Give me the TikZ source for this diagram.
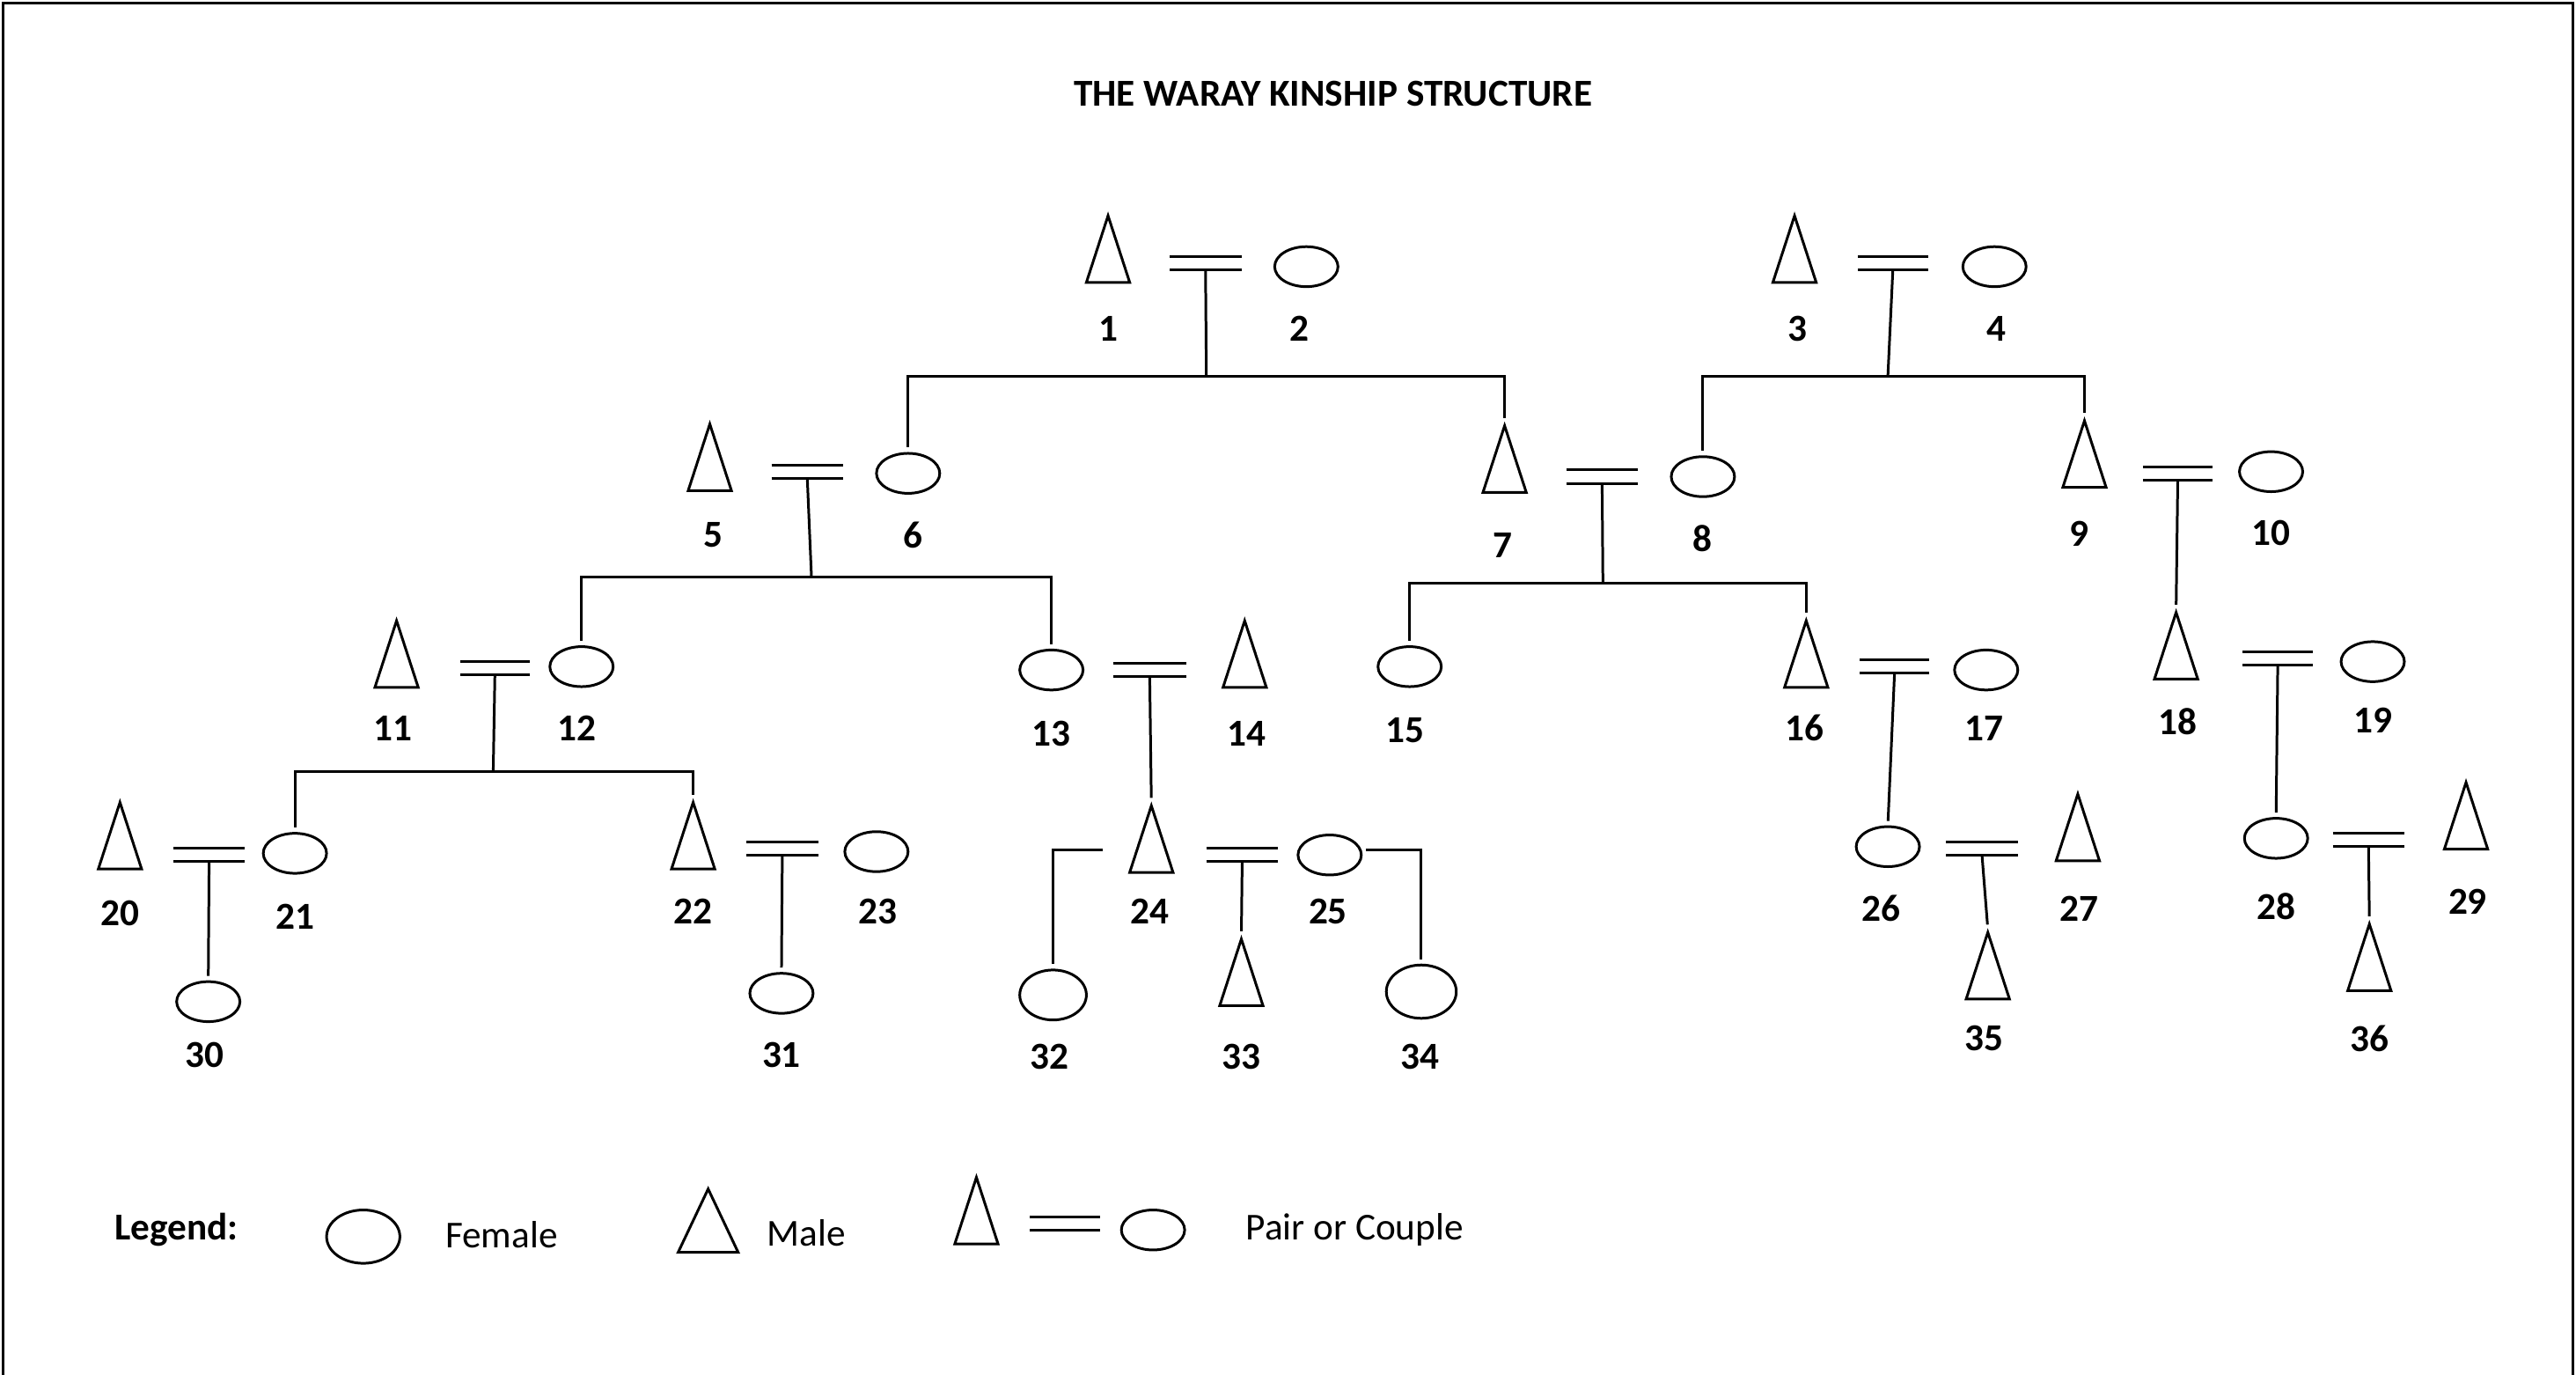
\documentclass[tikz,border=0pt]{standalone}
\usepackage{fontspec}
\setmainfont{Carlito}
\usetikzlibrary{shapes.geometric}
\tikzset{
  male/.style={isosceles triangle, isosceles triangle stretches, shape border rotate=90, draw, inner sep=0pt, minimum width=0.52cm, minimum height=0.8cm},
  female/.style={ellipse, draw, inner sep=0pt, minimum width=0.76cm, minimum height=0.48cm},
  num/.style={font=\fontsize{13}{15}\selectfont\bfseries},
  txt/.style={font=\fontsize{13}{15}\selectfont},
  link/.style={shorten >=1.5pt}
}
% two short lines between partners, coordinate at middle of the lower one
\newcommand\pairline[4]{\draw (#2,#4-4) -- (#3,#4-4); \draw (#2,#4+4) -- coordinate (#1) (#3,#4+4);}
\begin{document}
\begin{tikzpicture}[x=0.02cm, y=-0.02cm, line width=0.9pt]
\useasboundingbox (0,0) rectangle (1546,825);
\draw (2,825) -- (2,2) -- (1544,2) -- (1544,825);
\node[num] (title) at (800,56) {THE WARAY KINSHIP STRUCTURE};

% generation 1
\node[male] (n1) at (665,160) {};   \node[female] (n2) at (784,160) {};
\node[num] at (665,197) {1};        \node[num] at (780,197) {2};
\pairline{m1}{702}{745}{158}
\node[male] (n3) at (1077,160) {};  \node[female] (n4) at (1197,160) {};
\node[num] at (1079,197) {3};       \node[num] at (1198,197) {4};
\pairline{m3}{1115}{1157}{158}

% generation 2
\node[male] (n5) at (426,285) {};   \node[female] (n6) at (545,284) {};
\node[num] at (428,321) {5};        \node[num] at (548,321) {6};
\pairline{m5}{463}{506}{283}
\node[male] (n7) at (903,286) {};   \node[female] (n8) at (1022,286) {};
\node[num] at (902,327) {7};        \node[num] at (1022,323) {8};
\pairline{m7}{940}{983}{286}
\node[male] (n9) at (1251,283) {};  \node[female] (n10) at (1363,283) {};
\node[num] at (1248,320) {9};       \node[num] at (1363,320) {10};
\pairline{m9}{1286}{1328}{284}

% generation 3
\node[male] (n11) at (238,403) {};  \node[female] (n12) at (349,400) {};
\node[num] at (236,437) {11};       \node[num] at (346,437) {12};
\pairline{m11}{276}{318}{401}
\node[female] (n13) at (631,402) {}; \node[male] (n14) at (747,403) {};
\node[num] at (631,440) {13};       \node[num] at (748,440) {14};
\pairline{m13}{668}{712}{402}
\node[female] (n15) at (846,400) {};
\node[num] at (843,438) {15};
\node[male] (n16) at (1084,403) {}; \node[female] (n17) at (1192,402) {};
\node[num] at (1083,437) {16};      \node[num] at (1191,437) {17};
\pairline{m16}{1116}{1158}{400}
\node[male] (n18) at (1306,398) {}; \node[female] (n19) at (1424,397) {};
\node[num] at (1307,433) {18};      \node[num] at (1424,432) {19};
\pairline{m18}{1346}{1388}{395}

% generation 4
\node[male] (n20) at (72,512) {};   \node[female] (n21) at (177,512) {};
\node[num] at (72,548) {20};        \node[num] at (177,550) {21};
\pairline{m20}{104}{147}{513}
\node[male] (n22) at (416,512) {};  \node[female] (n23) at (526,511) {};
\node[num] at (416,547) {22};       \node[num] at (527,547) {23};
\pairline{m22}{448}{491}{509}
\node[male] (n24) at (691,514) {};  \node[female] (n25) at (798,513) {};
\node[num] at (690,547) {24};       \node[num] at (797,547) {25};
\pairline{m24}{724}{767}{513}
\node[female] (n26) at (1133,508) {}; \node[male] (n27) at (1247,507) {};
\node[num] at (1129,545) {26};      \node[num] at (1248,545) {27};
\pairline{m26}{1168}{1211}{509}
\node[female] (n28) at (1366,503) {}; \node[male] (n29) at (1480,500) {};
\node[num] at (1366,544) {28};      \node[num] at (1481,541) {29};
\pairline{m28}{1400}{1443}{504}

% generation 5
\node[female] (n30) at (125,601) {};  \node[num] at (123,633) {30};
\node[female] (n31) at (469,596) {};  \node[num] at (469,633) {31};
\node[female, minimum width=0.8cm, minimum height=0.6cm] (n32) at (632,597) {}; \node[num] at (630,634) {32};
\node[male] (n33) at (745,594) {};    \node[num] at (745,634) {33};
\node[female, minimum width=0.84cm, minimum height=0.64cm] (n34) at (853,595) {}; \node[num] at (852,634) {34};
\node[male] (n35) at (1193,590) {};   \node[num] at (1191,623) {35};
\node[male] (n36) at (1422,585) {};   \node[num] at (1422,623) {36};

% descent lines
\coordinate (k1) at (724,226);  \coordinate (k2) at (1133,226);
\coordinate (k3) at (487,346);  \coordinate (k4) at (962,350);
\coordinate (k5) at (296,463);
\draw (m1) -- (k1);  \draw[link] (k1) -| (n6.north);  \draw[link] (k1) -| (n7.north);
\draw (m3) -- (k2);  \draw[link] (k2) -| (n8.north);  \draw[link] (k2) -| (n9.north);
\draw (m5) -- (k3);  \draw[link] (k3) -| (n12.north); \draw[link] (k3) -| (n13.north);
\draw (m7) -- (k4);  \draw[link] (k4) -| (n15.north); \draw[link] (k4) -| (n16.north);
\draw (m11) -- (k5); \draw[link] (k5) -| (n21.north); \draw[link] (k5) -| (n22.north);
\draw[link] (m9) -- (n18.north);
\draw[link] (m13) -- (n24.north);
\draw[link] (m16) -- (n26.north);
\draw[link] (m18) -- (n28.north);
\draw[link] (m20) -- (n30.north);
\draw[link] (m22) -- (n31.north);
\draw[link] (m24) -- (n33.north);
\draw[link] (m26) -- (n35.north);
\draw[link] (m28) -- (n36.north);
\draw[link] (662,510) coordinate (j1) -| (n32.north);
\draw[link] (820,510) coordinate (j2) -| (n34.north);

% legend
\node[num] (leg) at (106,738) {Legend:};
\node[female, minimum width=0.88cm, minimum height=0.64cm] (lf) at (218,742) {};
\node[txt] at (301,741) {Female};
\node[male, minimum width=0.72cm, minimum height=0.76cm] (lm) at (425,740) {};
\node[txt] at (484,740) {Male};
\node[male] (lp1) at (586,737) {};
\pairline{lpm}{618}{660}{734}
\node[female] (lp2) at (692,738) {};
\node[txt] at (813,738) {Pair or Couple};
\end{tikzpicture}
\end{document}
